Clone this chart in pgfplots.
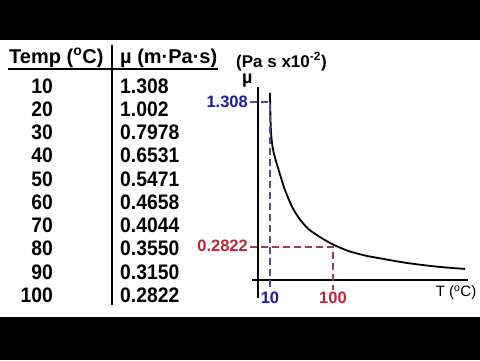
\documentclass[border=0pt]{standalone}
\usepackage{pgfplots}
\pgfplotsset{compat=1.18}
\usepackage{fontspec}
\setmainfont{Liberation Sans}
\newfontfamily\rowfont[FakeStretch=0.92]{Liberation Sans}
\definecolor{tblue}{HTML}{1E1E9A}
\definecolor{tred}{HTML}{B8283C}
\definecolor{dblue}{HTML}{50508E}
\definecolor{dred}{HTML}{A43C50}
\begin{document}
\begin{tikzpicture}[x=1pt,y=1pt]
\useasboundingbox (0,0) rectangle (480,360);
\fill[white] (0,0) rectangle (480,360);
\fill[black] (0,320) rectangle (480,360);
\fill[black] (0,0) rectangle (480,43);
% table
\draw[line width=2pt] (8,291) -- (218,291);
\draw[line width=2pt] (112,315) -- (112,55);
\node[anchor=base west, inner sep=0, font=\fontsize{20}{24}\selectfont\bfseries] at (9,297) {Temp (\textsuperscript{o}C)};
\node[anchor=base west, inner sep=0, font=\fontsize{20}{24}\selectfont\bfseries] at (120,297) {µ (m·Pa·s)};
\foreach \t/\m [count=\i from 0] in {10/1.308, 20/1.002, 30/0.7978, 40/0.6531, 50/0.5471, 60/0.4658, 70/0.4044, 80/0.3550, 90/0.3150, 100/0.2822} {
  \node[anchor=base east, inner sep=0, font=\rowfont\fontsize{21}{24}\selectfont\bfseries] at (53,{267-23.27*\i}) {\t};
  \node[anchor=base west, inner sep=0, font=\rowfont\fontsize{21}{24}\selectfont\bfseries] at (120,{267-23.27*\i}) {\m};
}
\begin{axis}[at={(249pt,59pt)}, anchor=south west, scale only axis,
  width=224pt, height=226.14pt, xmin=-20, xmax=300, ymin=-0.1, ymax=1.5,
  hide axis, clip=false]
\addplot[black, line width=2pt] coordinates {(-7.14,1.414) (-7.14,-0.0797)};
\addplot[black, line width=2pt] coordinates {(-15.7,0.0487) (292.9,0.0487)};
\addplot[black, line width=1.8pt, smooth, tension=0.5] coordinates {
(10,1.372) (10.8,1.17) (12.0,1.06) (14.2,0.975) (17.1,0.915) (24.3,0.795) (31.4,0.685)
(41.0,0.572) (50.4,0.494) (64.7,0.410) (83.9,0.345) (100,0.300) (121.9,0.254)
(145.7,0.222) (157,0.211) (205.7,0.169) (252.9,0.141) (288.6,0.127)};
\addplot[dblue, line width=1.2pt, dash pattern=on 7pt off 4pt] coordinates {(-18.6,1.308) (10,1.308) (10,-0.022)};
\addplot[dred, line width=1.2pt, dash pattern=on 7pt off 4pt] coordinates {(-18.6,0.2822) (100,0.2822) (100,-0.022)};
\end{axis}
\node[anchor=base west, inner sep=0, font=\fontsize{17}{20}\selectfont\bfseries] at (236,293) {(Pa s x10\textsuperscript{-2})};
\node[anchor=base west, inner sep=0, font=\fontsize{18}{21}\selectfont\bfseries] at (242,277) {µ};
\node[anchor=east, inner sep=0, text=tblue, font=\fontsize{16.5}{19}\selectfont\bfseries] at (248,258) {1.308};
\node[anchor=east, inner sep=0, text=tred, font=\fontsize{16.5}{19}\selectfont\bfseries] at (248,114) {0.2822};
\node[inner sep=0, text=tblue, font=\fontsize{16.5}{19}\selectfont\bfseries] at (270,62) {10};
\node[inner sep=0, text=tred, font=\fontsize{16.5}{19}\selectfont\bfseries] at (333,62) {100};
\node[inner sep=0, font=\fontsize{15}{18}\selectfont] at (456,67) {T (\textsuperscript{o}C)};
\end{tikzpicture}
\end{document}
